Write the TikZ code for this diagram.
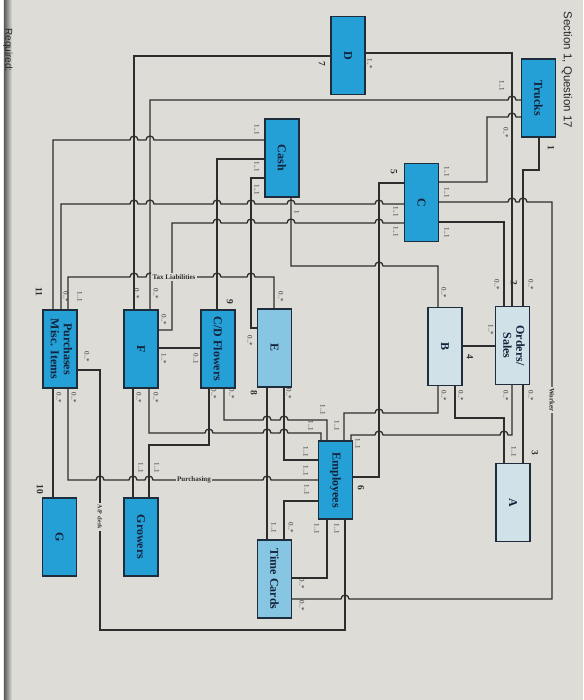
\documentclass[tikz,border=0pt]{standalone}
\usepackage{fontspec}
\setmainfont{Liberation Serif}
\setsansfont{Liberation Sans}
\usepackage{graphicx}

\definecolor{bg}{RGB}{221,220,214}
\definecolor{entd}{RGB}{36,160,214}
\definecolor{entl}{RGB}{135,198,226}
\definecolor{entp}{RGB}{208,226,232}
\definecolor{ln}{RGB}{45,45,45}
\definecolor{boxline}{RGB}{30,45,60}
\definecolor{boxtext}{RGB}{20,35,60}

% line hops, left-to-right and right-to-left
\newcommand{\hopr}[2]{-- ({#1-4},#2) arc[start angle=180,end angle=0,radius=4pt]}
\newcommand{\hopl}[2]{-- ({#1+4},#2) arc[start angle=0,end angle=180,radius=4pt]}

\begin{document}
\begin{tikzpicture}[x=1pt,y=-1pt,
  box/.style={draw=boxline,line width=1.2pt,minimum width=34pt,minimum height=78pt,
    inner sep=0pt,text=boxtext,font=\bfseries\fontsize{12}{13}\selectfont},
  wire/.style={draw=ln,line width=1.3pt},
  mult/.style={rotate=-90,inner sep=0pt,text=ln,font=\fontsize{7}{8}\selectfont},
  num/.style={rotate=-90,inner sep=0pt,text=ln,font=\bfseries\fontsize{9.5}{10}\selectfont},
  tag/.style={fill=bg,inner sep=1.5pt,text=ln,font=\bfseries\fontsize{7}{8}\selectfont}]

\fill[bg] (0,0) rectangle (579,700);
\shade[left color=black!65,right color=bg] (0,0) rectangle (8,700);

\node[rotate=-90,font=\sffamily\fontsize{11.5}{12}\selectfont,text=black!85] (title) at (563,70) {Section 1, Question 17};
\node[rotate=-90,font=\sffamily\fontsize{10}{11}\selectfont,text=black!85] (req) at (4,50) {Required:};

\node[box,fill=entd] (d) at (344,55.5) {\rotatebox{-90}{D}};
\node[box,fill=entd] (trucks) at (534.5,98) {\rotatebox{-90}{Trucks}};
\node[box,fill=entd] (cash) at (278,158) {\rotatebox{-90}{Cash}};
\node[box,fill=entd] (c) at (417.5,202.5) {\rotatebox{-90}{C}};
\node[box,fill=entp] (orders) at (508.5,345.5) {\rotatebox{-90}{\begin{tabular}{@{}c@{}}Orders/\\Sales\end{tabular}}};
\node[box,fill=entp] (b) at (441,346.5) {\rotatebox{-90}{B}};
\node[box,fill=entp] (a) at (509,502.5) {\rotatebox{-90}{A}};
\node[box,fill=entd] (purch) at (56,349) {\rotatebox{-90}{\begin{tabular}{@{}c@{}}Purchases\\Misc. Items\end{tabular}}};
\node[box,fill=entd] (f) at (137,349) {\rotatebox{-90}{F}};
\node[box,fill=entd] (cd) at (214,349) {\rotatebox{-90}{C/D Flowers}};
\node[box,fill=entl] (e) at (270.5,348) {\rotatebox{-90}{E}};
\node[box,fill=entd] (employees) at (331.5,480) {\rotatebox{-90}{Employees}};
\node[box,fill=entl] (tc) at (270.5,579) {\rotatebox{-90}{Time Cards}};
\node[box,fill=entd] (g) at (55.5,537) {\rotatebox{-90}{G}};
\node[box,fill=entd] (growers) at (137,537) {\rotatebox{-90}{Growers}};

% D and Trucks
\draw[wire] (d.west |- 0,56) -- (130,56) -- (f.north -| 130,0);
\draw[wire] (trucks.west |- 0,100) \hopl{508}{100} -- (146,100) -- (f.north -| 146,0);
\draw[wire] (d.east |- 0,53) -- (508,53) -- (orders.north -| 508,0);
\draw[wire] (trucks.west |- 0,117) \hopl{508}{117} -- (483,117) -- (483,182) -- (c.east |- 0,182);
\draw[wire] (trucks.south -| 535,0) -- (535,170) -- (519,170) -- (orders.north -| 519,0);
% C
\draw[wire] (c.east |- 0,202) \hopr{508}{202} \hopr{519}{202} -- (548,202) -- (548,599) \hopl{341}{599} -- (tc.east |- 0,599);
\draw[wire] (c.east |- 0,222) -- (500,222) -- (orders.north -| 500,0);
\draw[wire] (c.west |- 0,183) -- (375,183) -- (375,477) -- (employees.east |- 0,477);
\draw[wire] (c.west |- 0,204) \hopl{375}{204} \hopl{287}{204} \hopl{247}{204} \hopl{213}{204} \hopl{146}{204} \hopl{130}{204} -- (57,204) -- (purch.north -| 57,0);
\draw[wire] (c.west |- 0,223) \hopl{375}{223} \hopl{287}{223} \hopl{247}{223} \hopl{213}{223} -- (168,223) -- (168,330) -- (f.east |- 0,330);
% Cash
\draw[wire] (cash.west |- 0,140) \hopl{146}{140} \hopl{130}{140} -- (49,140) -- (purch.north -| 49,0);
\draw[wire] (cash.west |- 0,159) -- (213,159) -- (cd.north -| 213,0);
\draw[wire] (cash.west |- 0,178) -- (247,178) -- (247,328) -- (e.west |- 0,328);
\draw[wire] (cash.south -| 287,0) -- (287,266) \hopr{375}{266} -- (434,266) -- (b.north -| 434,0);
\draw[wire] (purch.north -| 64,0) -- (64,277) \hopr{130}{277} \hopr{146}{277} -- (168,277) \hopr{213}{277} \hopr{247}{277} -- (270,277) -- (e.north -| 270,0);
\draw[wire] (f.east |- 0,348) -- (cd.west |- 0,348);
\draw[wire] (b.east |- 0,346) -- (orders.west |- 0,346);
% lower half
\draw[wire] (purch.east |- 0,370) -- (96,370) -- (96,630) -- (341,630) -- (employees.south -| 341,0);
\draw[wire] (purch.south -| 49,0) -- (g.north -| 49,0);
\draw[wire] (purch.south -| 64,0) -- (64,480) \hopr{96}{480} \hopr{129}{480} \hopr{145}{480} \hopr{263}{480} -- (employees.west |- 0,480);
\draw[wire] (f.south -| 129,0) -- (growers.north -| 129,0);
\draw[wire] (f.south -| 145,0) -- (145,433) \hopr{205}{433} \hopr{263}{433} \hopr{280}{433} -- (317,433) -- (employees.north -| 317,0);
\draw[wire] (cd.south -| 205,0) -- (205,445) -- (145,445) -- (growers.north -| 145,0);
\draw[wire] (cd.south -| 220,0) -- (220,420) \hopr{263}{420} \hopr{280}{420} -- (323,420) -- (employees.north -| 323,0);
\draw[wire] (e.south -| 263,0) -- (tc.north -| 263,0);
\draw[wire] (e.south -| 280,0) -- (280,460) -- (employees.west |- 0,460);
\draw[wire] (tc.north -| 280,0) -- (280,501) -- (employees.west |- 0,501);
\draw[wire] (employees.south -| 323,0) -- (323,578) -- (tc.east |- 0,578);
\draw[wire] (b.south -| 434,0) -- (434,413) \hopl{375}{413} -- (340,413) -- (employees.north -| 340,0);
\draw[wire] (b.south -| 451,0) -- (451,418) -- (500,418) -- (a.north -| 500,0);
\draw[wire] (orders.south -| 508,0) -- (508,435) \hopl{500}{435} \hopl{375}{435} -- (347,435) -- (employees.north -| 347,0);
\draw[wire] (orders.south -| 519,0) -- (a.north -| 519,0);

\node[tag] (tax) at (170,277) {Tax Liabilities};
\node[tag] (purchasing) at (190,480) {Purchasing};
\node[tag,rotate=-90] (worker) at (548,400) {Worker};
\node[tag,rotate=-90,font=\bfseries\fontsize{6}{7}\selectfont] (apclerk) at (96,517) {A/P clerk};

\foreach \x/\y/\t [count=\i] in {366/64/1..*, 498/86/1..1, 502/133/0..*, 443/172/1..1, 443/193/1..1,
    443/233/1..1, 392/212/1..1, 392/232/1..1, 253/130/1..1, 253/167/1..1, 253/190/1..1, 293/212/1,
    493/285/0..*, 527/285/0..*, 487/330/1..*, 440/293/0..*, 440/396/0..*, 457/396/0..*,
    502/396/0..*, 527/396/0..*, 510/452/1..1, 277/297/0..*, 246/341/0..*, 285/394/0..*,
    210/394/0..*, 228/394/0..*, 192/359/0..1, 160/359/1..*, 160/320/0..*, 133/294/0..*,
    152/294/0..*, 135/398/0..*, 152/398/0..*, 62/297/0..*, 76/297/1..1, 55/398/0..*,
    70/398/0..*, 83/357/0..*, 137/468/1..1, 153/468/1..1, 270/528/1..1, 287/528/0..*,
    298/584/0..*, 298/606/0..*, 319/410/1..1, 307/426/1..1, 333/426/1..1, 354/444/1..1,
    302/452/1..1, 302/471/1..1, 303/490/1..1, 313/529/1..1, 333/529/1..1}
  \node[mult] (m\i) at (\x,\y) {\t};

\foreach \x/\y/\t [count=\i] in {547/148/1, 510/283/2, 531/453/3, 466/357/4, 390/172/5,
    357/488/6, 318/64/7, 250/393/8, 226/302/9, 36/489/10, 35/292/11}
  \node[num] (n\i) at (\x,\y) {\t};
\end{tikzpicture}
\end{document}
